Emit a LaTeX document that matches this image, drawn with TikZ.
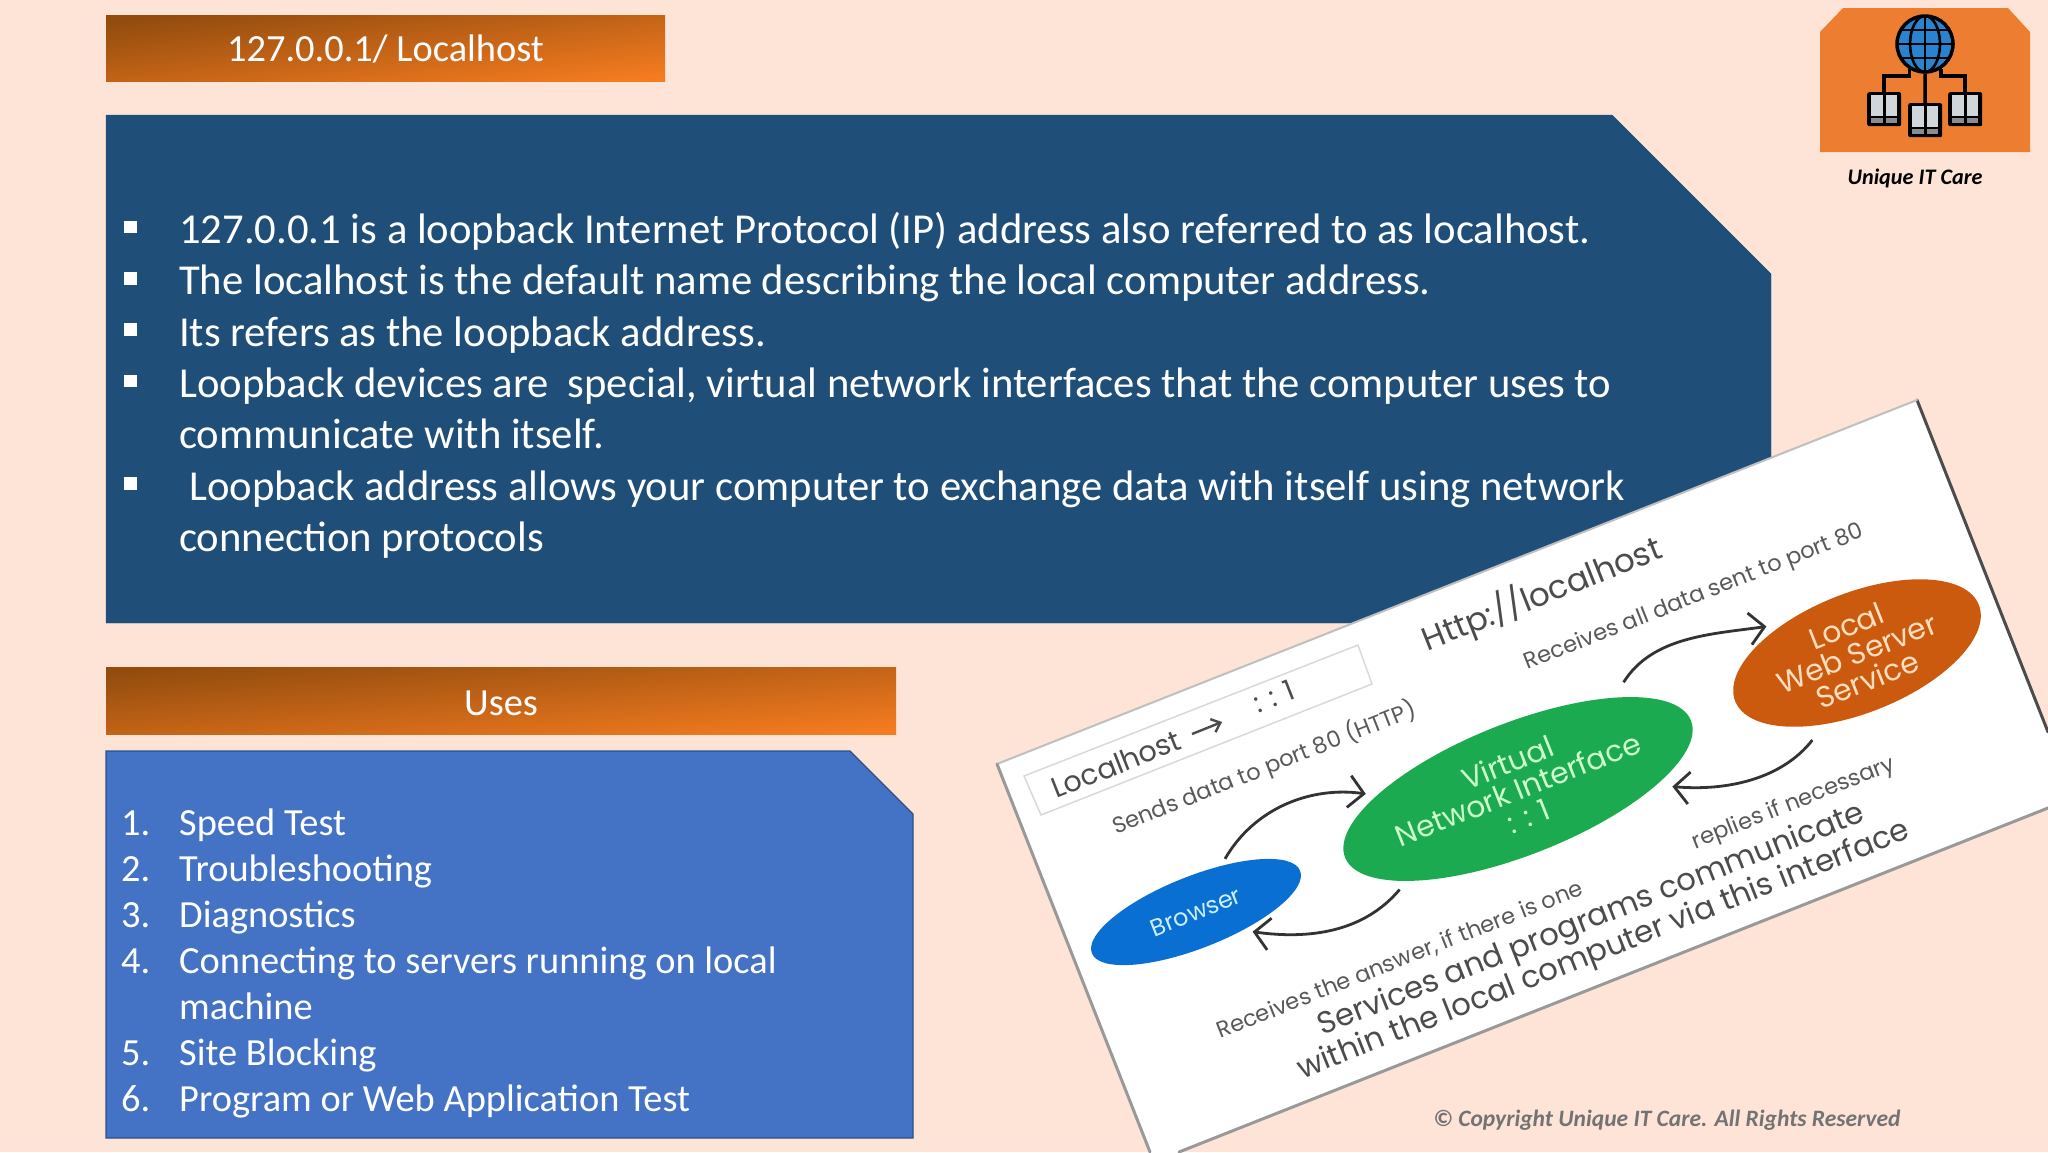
\documentclass[tikz,border=0pt]{standalone}
\usepackage{fontspec}
\setmainfont{Carlito}
\newfontfamily\photofont{Poppins}
\usetikzlibrary{positioning}
\usetikzlibrary{arrows.meta,shapes.geometric}
\definecolor{pagepeach}{HTML}{FEE4D7}
\definecolor{darknavy}{HTML}{1F4E79}
\definecolor{midblue}{HTML}{4472C4}
\definecolor{logoorange}{HTML}{ED7D31}
\definecolor{barlight}{HTML}{F47B20}
\definecolor{bardark}{HTML}{924C0E}
\definecolor{blobblue}{HTML}{0A6FD2}
\definecolor{blobgreen}{HTML}{1BAA50}
\definecolor{bloborange}{HTML}{CC5A0E}
\newcommand{\fsize}[1]{\fontsize{#1}{\the\dimexpr #1pt*6/5\relax}\selectfont}
\tikzstyle{headerbox}=[rectangle,shade,top color=bardark,bottom color=barlight,text=white,inner sep=0pt,font=\fsize{38.4}]
\tikzstyle{bodyline}=[anchor=base west,text=white,inner sep=0pt,font=\fsize{42.67}]
\tikzstyle{useline}=[anchor=base west,text=white,inner sep=0pt,font=\fsize{38.4}]
\tikzstyle{bulletmark}=[rectangle,fill=white,minimum size=12.5pt,inner sep=0pt]
\tikzstyle{photolabel}=[rotate=21.6,text=black!65,inner sep=0pt,font=\photofont\fsize{22.6}]
\tikzstyle{photobig}=[rotate=21.6,text=black!70,inner sep=0pt,align=center,font=\photofont\fsize{30.8}]
\tikzstyle{blob}=[ellipse,rotate=21.6,inner sep=0pt,align=center,font=\photofont\fsize{29.7}]
\tikzstyle{flowarrow}=[draw=black!80,line width=2.8pt,-{Straight Barb[length=15pt,width=32pt]}]
\tikzstyle{photoedge}=[line width=3pt,line cap=round]
\tikzstyle{wire}=[draw=black,line width=3.5pt]

\begin{document}
\begin{tikzpicture}[x=1pt,y=-1pt]

  \useasboundingbox (0,0) rectangle (2048,1152);
  \fill[pagepeach] (0,0) rectangle (2048,1152);

  % headers
  \node[headerbox,shading angle=7,minimum width=559pt,minimum height=66pt] (title) at (385.5,48.5) {\raisebox{-12.5pt}[0pt][0pt]{127.0.0.1/ Localhost}};
  \node[headerbox,shading angle=5,minimum width=790pt,minimum height=67pt] (uses) at (501,700.5) {\raisebox{-14.5pt}[0pt][0pt]{Uses}};

  % main panels
  \draw[fill=darknavy,draw=darknavy] (106,115) -- (1612,115) -- (1771,274) -- (1771,623) -- (106,623) -- cycle;
  \draw[fill=midblue,draw=midblue!70!black,line width=1.2pt] (106,751) -- (850,751) -- (913,814) -- (913,1138) -- (106,1138) -- cycle;

  \foreach \y/\x/\name/\label in {
     243.5/179/la/{127.0.0.1 is a loopback Internet Protocol (IP) address also referred to as localhost.},
     294.8/179/lb/{The localhost is the default name describing the local computer address.},
     346.1/179/lc/{Its refers as the loopback address.},
     397.4/179/ld/{Loopback devices are~ special, virtual network interfaces that the computer uses to},
     448.7/179/le/{communicate with itself.},
     500/189/lf/{Loopback address allows your computer to exchange data with itself using network},
     551.3/179/lg/{connection protocols}}
     \node[bodyline] (\name) at (\x,\y) {\label};

  \foreach \y/\name in {227/ba, 278.3/bb, 329.6/bc, 380.9/bd, 483.5/bf}
     \node[bulletmark] (\name) at (130.5,\y) {};

  \foreach \y/\n/\name/\label in {
     835/1/ua/{Speed Test},
     881/2/ub/{Troubleshooting},
     927/3/uc/{Diagnostics},
     973/4/ud/{Connecting to servers running on local},
     1065/5/ue/{Site Blocking},
     1111/6/uf/{Program or Web Application Test}} {
     \node[useline] (num\name) at (121,\y) {\n.};
     \node[useline] (\name) at (179,\y) {\label};
  }
  \node[useline] (udd) at (179,1019) {machine};

  % tilted picture
  \fill[white] (1917,400) -- (997,764) -- (1150,1152) -- (1179,1152) -- (2048,808) -- (2048,732) -- cycle;
  \draw[photoedge,black!70] (1917,400) -- (2048,732);
  \draw[photoedge,black!25,line width=2pt] (1917,400) -- (997,764);
  \draw[photoedge,black!40] (997,764) -- (1150,1152);
  \draw[photoedge,black!40] (1179,1152) -- (2048,808);

  \draw[draw=black!15,line width=1.5pt,fill=white] (1024,776) -- (1358,645) -- (1372,684) -- (1041,815) -- cycle;
  \node[photobig,font=\photofont\fsize{28.6}] (lhost) at (1116,764) {Localhost};
  \node[photobig,font=\photofont\fsize{28.6}] (lhostip) at (1274,696) {: : 1};
  \coordinate (larrowa) at (1192,734);
  \coordinate (larrowb) at (1222,722);
  \draw[draw=black!70,line width=2.4pt,-{Straight Barb[length=8pt,width=14pt]}] (larrowa) -- (larrowb);

  \node[photobig,font=\photofont\fsize{32.5}] (http) at (1542,594) {Http://localhost};
  \node[photolabel] (sends) at (1264,768) {Sends data to port 80 (HTTP)};
  \node[photolabel] (recvall) at (1694,598) {Receives all data sent to port 80};
  \node[photolabel] (recvans) at (1400,960) {Receives the answer, if there is one};
  \node[photolabel] (replies) at (1794,804) {replies if necessary};
  \node[photobig] (services) at (1598,936) {Services and programs communicate\\[-4pt]within the local computer via this interface};

  \node[blob,fill=blobblue,text=white!80!cyan,font=\photofont\fsize{24},minimum width=224pt,minimum height=72pt] (browser) at (1196,912) {Browser};
  \node[blob,fill=blobgreen,text=white!80!green,minimum width=372pt,minimum height=132pt] (vni) at (1518,789) {Virtual\\[-7pt]Network Interface\\[-7pt]: : 1};
  \node[blob,fill=bloborange,text=white!75!orange,minimum width=262pt,minimum height=120pt] (webserver) at (1857,653) {Local\\[-7pt]Web Server\\[-7pt]Service};

  \draw[flowarrow,shorten <=8pt,shorten >=11pt] (browser.40) to[out=60,in=172] (vni.161);
  \draw[flowarrow,shorten <=18pt,shorten >=17pt] (vni.22) to[out=58,in=188] (webserver.137);
  \draw[flowarrow,shorten <=20pt,shorten >=16pt] (webserver.224) to[out=232,in=-5] (vni.340);
  \draw[flowarrow,shorten <=11pt,shorten >=10pt] (vni.198) to[out=230,in=-8] (browser.317);

  % logo
  \fill[logoorange] (1820,32) -- (1843,8) -- (2008,8) -- (2030,32) -- (2030,152) -- (1820,152) -- cycle;
  \node[circle,fill=cyan!60!blue!90,draw=black,line width=3.5pt,minimum size=56pt,inner sep=0pt] (globe) at (1925,44) {};
  \begin{scope}
    \clip (1925,44) circle (28);
    \draw[line width=2.6pt,black] (1925,16) -- (1925,72) (1897,44) -- (1953,44) (1897,30) -- (1953,30) (1897,58) -- (1953,58);
    \draw[line width=2.6pt,black] (1925,44) ellipse (15 and 28);
  \end{scope}
  \foreach \y/\x/\name in {92/1867/srva, 103/1908/srvb, 92/1948/srvc} {
     \node[rectangle,fill=black,rounded corners=2pt,minimum width=34pt,minimum height=34pt,inner sep=0pt,anchor=north west] (\name) at (\x,\y) {};
     \fill[black!15!cyan!8!white!85!black] (\x+4,\y+3) rectangle (\x+15.5,\y+24);
     \fill[black!15!cyan!8!white!85!black] (\x+18.5,\y+3) rectangle (\x+30,\y+24);
     \fill[black!45!cyan!10!gray] (\x+4,\y+26) rectangle (\x+15.5,\y+31);
     \fill[black!45!cyan!10!gray] (\x+18.5,\y+26) rectangle (\x+30,\y+31);
  }
  \draw[wire] (globe.south) -- (srvb.north);
  \draw[wire] (globe.-122) |- ++(-10,7) -| (srva.north);
  \draw[wire] (globe.-58) |- ++(10,7) -| (srvc.north);

  \node[font=\bfseries\itshape\fsize{22.2},text=black] (brand) at (1915,178) {Unique IT Care};
  \node[font=\bfseries\itshape\fsize{23.5},text=black!55] (copyright) at (1667,1120) {© Copyright Unique IT Care. All Rights Reserved};

\end{tikzpicture}
\end{document}
